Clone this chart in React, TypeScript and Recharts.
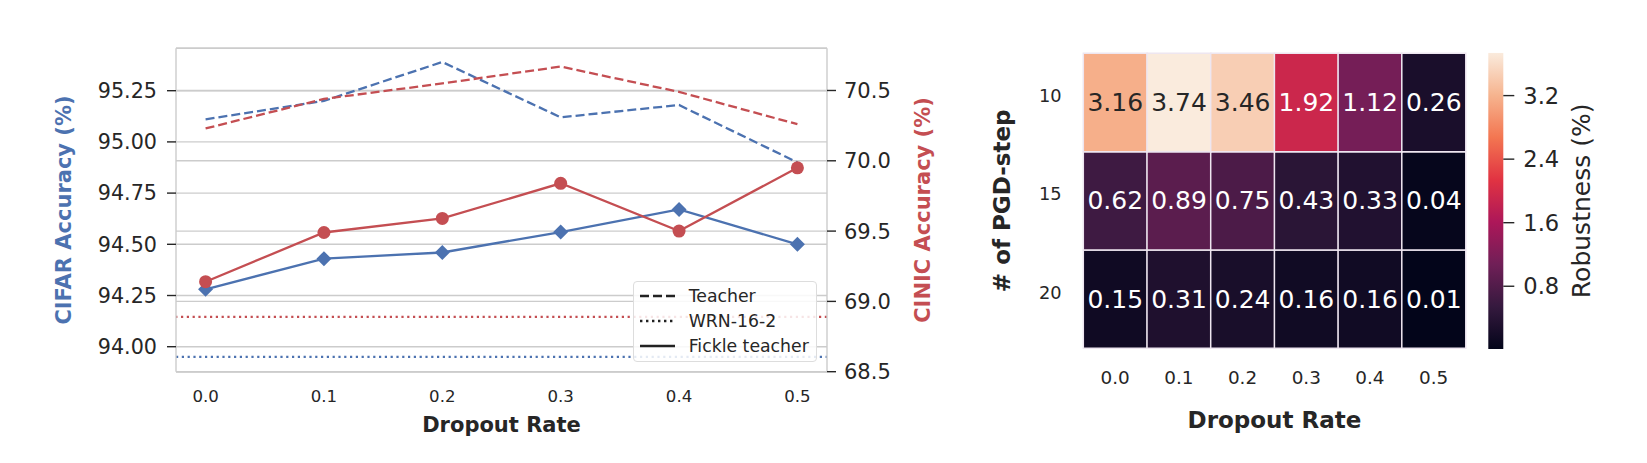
import React from "react";
import {
  LineChart,
  Line,
  XAxis,
  YAxis,
  CartesianGrid,
  ReferenceLine,
  Label,
  BarChart,
  Bar,
  Cell,
  LabelList,
} from "recharts";

// ---- left panel data ----
const dropoutRates = [0, 0.1, 0.2, 0.3, 0.4, 0.5];
const cifarTeacher = [95.11, 95.2, 95.39, 95.12, 95.18, 94.9];
const cifarFickle = [94.28, 94.43, 94.46, 94.56, 94.67, 94.5];
const cinicTeacher = [70.23, 70.44, 70.55, 70.67, 70.49, 70.26];
const cinicFickle = [69.14, 69.49, 69.59, 69.84, 69.5, 69.95];
const cifarWrn = 93.95;
const cinicWrn = 68.89;
const cifarTicks = [94.0, 94.25, 94.5, 94.75, 95.0, 95.25];
const cinicTicks = [68.5, 69.0, 69.5, 70.0, 70.5];

// ---- right panel data ----
const heatRates = ["0.0", "0.1", "0.2", "0.3", "0.4", "0.5"];
const pgdSteps = ["10", "15", "20"];
const robustness10 = [3.16, 3.74, 3.46, 1.92, 1.12, 0.26];
const robustness15 = [0.62, 0.89, 0.75, 0.43, 0.33, 0.04];
const robustness20 = [0.15, 0.31, 0.24, 0.16, 0.16, 0.01];
const colorbarTicks = [0.8, 1.6, 2.4, 3.2];

const FONT = '"DejaVu Sans", sans-serif';
const BLUE = "#4c72b0";
const RED = "#c44e52";
const GRID = "#cccccc";
const INK = "#262626";

const lineData = dropoutRates.map((rate, i) => ({
  rate,
  cifarTeacher: cifarTeacher[i],
  cifarFickle: cifarFickle[i],
  cinicTeacher: cinicTeacher[i],
  cinicFickle: cinicFickle[i],
}));

const allRobust = [...robustness10, ...robustness15, ...robustness20];
const vmin = Math.min(...allRobust);
const vmax = Math.max(...allRobust);

const heatData = heatRates.map((rate, i) => ({
  rate,
  span20: 1,
  span15: 1,
  span10: 1,
  v20: robustness20[i],
  v15: robustness15[i],
  v10: robustness10[i],
}));

// seaborn "rocket" colormap, sampled
const ROCKET: [number, string][] = [
  [0, "#03051a"],
  [1 / 7, "#35193e"],
  [2 / 7, "#701f57"],
  [3 / 7, "#ad1759"],
  [4 / 7, "#e13342"],
  [5 / 7, "#f37651"],
  [6 / 7, "#f6b48f"],
  [1, "#faebdd"],
];

const hex = (h: string) => [1, 3, 5].map((k) => parseInt(h.slice(k, k + 2), 16));

function rocketRgb(t: number) {
  const v = Math.max(0, Math.min(1, t));
  for (let i = 1; i < ROCKET.length; i++) {
    if (v <= ROCKET[i][0]) {
      const [p0, c0] = ROCKET[i - 1];
      const [p1, c1] = ROCKET[i];
      const f = (v - p0) / (p1 - p0);
      const a = hex(c0);
      const b = hex(c1);
      return a.map((x, k) => Math.round(x + (b[k] - x) * f));
    }
  }
  return hex(ROCKET[ROCKET.length - 1][1]);
}

const norm = (v: number) => (v - vmin) / (vmax - vmin);
const cellColor = (v: number) => {
  const [r, g, b] = rocketRgb(norm(v));
  return `rgb(${r},${g},${b})`;
};
const luminance = (v: number) => {
  const lin = rocketRgb(norm(v)).map((c) => {
    const s = c / 255;
    return s <= 0.03928 ? s / 12.92 : Math.pow((s + 0.055) / 1.055, 2.4);
  });
  return 0.2126 * lin[0] + 0.7152 * lin[1] + 0.0722 * lin[2];
};

const renderDiamond = (props: any) => {
  const { cx, cy, index } = props;
  const s = 7.5;
  return (
    <polygon
      key={`dia-${index}`}
      points={`${cx},${cy - s} ${cx + s},${cy} ${cx},${cy + s} ${cx - s},${cy}`}
      fill={BLUE}
    />
  );
};

const renderCircle = (props: any) => {
  const { cx, cy, index } = props;
  return <circle key={`cir-${index}`} cx={cx} cy={cy} r={6.5} fill={RED} />;
};

const renderAnnot = (props: any) => {
  const { x, y, width, height, value } = props;
  return (
    <text
      x={x + width / 2}
      y={y + height / 2}
      textAnchor="middle"
      dominantBaseline="central"
      fontFamily={FONT}
      fontSize={25}
      fill={luminance(value) > 0.408 ? INK : "#ffffff"}
    >
      {value.toFixed(2)}
    </text>
  );
};

const RowTick = (props: any) => {
  const { x, y, payload } = props;
  const label = pgdSteps[pgdSteps.length - 1 - Math.floor(payload.value)];
  return (
    <text x={x} y={y - 7} textAnchor="end" dominantBaseline="central" fontFamily={FONT} fontSize={17.8} fill={INK}>
      {label}
    </text>
  );
};

const legendItems = [
  { label: "Teacher", dash: "9 4" },
  { label: "WRN-16-2", dash: "2.4 3.6" },
  { label: "Fickle teacher", dash: undefined },
];

const LegendBox = () => (
  <div
    style={{
      position: "absolute",
      left: 632.7,
      top: 280.7,
      width: 184,
      height: 81.6,
      boxSizing: "border-box",
      border: "1px solid #dddddd",
      borderRadius: 4,
      background: "rgba(255,255,255,0.85)",
      fontFamily: FONT,
      fontSize: 17.3,
      color: INK,
    }}
  >
    {legendItems.map((it, i) => (
      <div
        key={it.label}
        style={{ position: "absolute", left: 6, top: 2 + i * 25, height: 25, display: "flex", alignItems: "center" }}
      >
        <svg width={35} height={6} style={{ marginRight: 14 }}>
          <line x1={0} y1={3} x2={35} y2={3} stroke="#222222" strokeWidth={2.5} strokeDasharray={it.dash} />
        </svg>
        <span style={{ whiteSpace: "nowrap" }}>{it.label}</span>
      </div>
    ))}
  </div>
);

const axisText = { fill: INK, fontFamily: FONT };

export default function App() {
  return (
    <div style={{ position: "absolute", left: 0, top: 0, width: 1647, height: 463, background: "#ffffff" }}>
      <div style={{ position: "absolute", left: 0, top: 0 }}>
        <LineChart width={950} height={463} data={lineData} margin={{ top: 48.3, right: 0, bottom: 31.3, left: 0 }}>
          <CartesianGrid yAxisId="cifar" vertical={false} stroke={GRID} strokeWidth={1.4} />
          <CartesianGrid yAxisId="cinic" vertical={false} stroke={GRID} strokeWidth={1.4} />
          <XAxis
            dataKey="rate"
            type="number"
            domain={[-0.025, 0.525]}
            ticks={dropoutRates}
            allowDataOverflow
            tickFormatter={(v: number) => v.toFixed(1)}
            height={60}
            axisLine={{ stroke: GRID, strokeWidth: 1.4 }}
            tickLine={false}
            tickSize={10}
            tickMargin={9}
            tick={{ ...axisText, fontSize: 16.6 }}
          >
            <Label
              value="Dropout Rate"
              position="insideBottom"
              offset={0}
              style={{ ...axisText, fontSize: 21, fontWeight: "bold" }}
            />
          </XAxis>
          <XAxis
            xAxisId="top"
            orientation="top"
            type="number"
            domain={[-0.025, 0.525]}
            height={0}
            tick={false}
            tickLine={false}
            axisLine={{ stroke: GRID, strokeWidth: 1.4 }}
          />
          <YAxis
            yAxisId="cifar"
            orientation="left"
            width={176}
            domain={[93.878, 95.457]}
            ticks={cifarTicks}
            allowDataOverflow
            tickFormatter={(v: number) => v.toFixed(2)}
            axisLine={{ stroke: GRID, strokeWidth: 1.4 }}
            tickLine={{ stroke: INK, strokeWidth: 1.4 }}
            tickSize={9}
            tickMargin={10}
            tick={{ ...axisText, fontSize: 20.7 }}
          >
            <Label
              value="CIFAR Accuracy (%)"
              angle={-90}
              position="insideLeft"
              offset={64}
              style={{ textAnchor: "middle", fill: BLUE, fontFamily: FONT, fontSize: 21, fontWeight: "bold" }}
            />
          </YAxis>
          <YAxis
            yAxisId="cinic"
            orientation="right"
            width={123}
            domain={[68.5, 70.8]}
            ticks={cinicTicks}
            allowDataOverflow
            tickFormatter={(v: number) => v.toFixed(1)}
            axisLine={{ stroke: GRID, strokeWidth: 1.4 }}
            tickLine={{ stroke: INK, strokeWidth: 1.4 }}
            tickSize={9}
            tickMargin={8}
            tick={{ ...axisText, fontSize: 21 }}
          >
            <Label
              value="CINIC Accuracy (%)"
              angle={-90}
              position="insideLeft"
              offset={96}
              style={{ textAnchor: "middle", fill: RED, fontFamily: FONT, fontSize: 21, fontWeight: "bold" }}
            />
          </YAxis>
          <ReferenceLine yAxisId="cifar" y={cifarWrn} stroke={BLUE} strokeWidth={2.2} strokeDasharray="2.2 3.6" />
          <Line
            yAxisId="cifar"
            dataKey="cifarTeacher"
            stroke={BLUE}
            strokeWidth={2.3}
            strokeDasharray="9 4"
            dot={false}
            isAnimationActive={false}
          />
          <Line
            yAxisId="cifar"
            dataKey="cifarFickle"
            stroke={BLUE}
            strokeWidth={2.3}
            dot={renderDiamond}
            activeDot={false}
            isAnimationActive={false}
          />
          <ReferenceLine yAxisId="cinic" y={cinicWrn} stroke={RED} strokeWidth={2.2} strokeDasharray="2.2 3.6" />
          <Line
            yAxisId="cinic"
            dataKey="cinicTeacher"
            stroke={RED}
            strokeWidth={2.3}
            strokeDasharray="9 4"
            dot={false}
            isAnimationActive={false}
          />
          <Line
            yAxisId="cinic"
            dataKey="cinicFickle"
            stroke={RED}
            strokeWidth={2.3}
            dot={renderCircle}
            activeDot={false}
            isAnimationActive={false}
          />
        </LineChart>
        <LegendBox />
      </div>

      <div style={{ position: "absolute", left: 960, top: 0 }}>
        <BarChart
          width={510}
          height={463}
          data={heatData}
          margin={{ top: 53.3, right: 4.5, bottom: 34.7, left: 0 }}
          barCategoryGap={0}
          barGap={0}
        >
          <XAxis
            dataKey="rate"
            height={80}
            axisLine={false}
            tickLine={false}
            tickSize={0}
            tickMargin={22.7}
            tick={{ ...axisText, fontSize: 18.4 }}
          >
            <Label
              value="Dropout Rate"
              position="insideBottom"
              offset={0}
              style={{ ...axisText, fontSize: 23, fontWeight: "bold" }}
            />
          </XAxis>
          <YAxis
            type="number"
            domain={[0, pgdSteps.length]}
            ticks={pgdSteps.map((_, i) => i + 0.5)}
            width={123.3}
            axisLine={false}
            tickLine={false}
            tickSize={0}
            tickMargin={21.6}
            tick={<RowTick />}
          >
            <Label
              value="# of PGD-step"
              angle={-90}
              position="insideLeft"
              offset={42}
              style={{ textAnchor: "middle", ...axisText, fontSize: 23, fontWeight: "bold" }}
            />
          </YAxis>
          <Bar dataKey="span20" stackId="grid" stroke="#eee6f0" strokeWidth={1.5} isAnimationActive={false}>
            {heatData.map((d, i) => (
              <Cell key={`c20-${i}`} fill={cellColor(d.v20)} />
            ))}
            <LabelList dataKey="v20" content={renderAnnot} />
          </Bar>
          <Bar dataKey="span15" stackId="grid" stroke="#eee6f0" strokeWidth={1.5} isAnimationActive={false}>
            {heatData.map((d, i) => (
              <Cell key={`c15-${i}`} fill={cellColor(d.v15)} />
            ))}
            <LabelList dataKey="v15" content={renderAnnot} />
          </Bar>
          <Bar dataKey="span10" stackId="grid" stroke="#eee6f0" strokeWidth={1.5} isAnimationActive={false}>
            {heatData.map((d, i) => (
              <Cell key={`c10-${i}`} fill={cellColor(d.v10)} />
            ))}
            <LabelList dataKey="v10" content={renderAnnot} />
          </Bar>
        </BarChart>
      </div>

      <div style={{ position: "absolute", left: 1470, top: 0 }}>
        <BarChart
          width={177}
          height={463}
          data={[{ name: "colorbar", range: [vmin, vmax] }]}
          margin={{ top: 52.7, right: 23.7, bottom: 114, left: 18.3 }}
          barCategoryGap={0}
        >
          <defs>
            <linearGradient id="rocketGrad" x1="0" y1="1" x2="0" y2="0">
              {ROCKET.map(([p, c]) => (
                <stop key={p} offset={p} stopColor={c} />
              ))}
            </linearGradient>
          </defs>
          <XAxis dataKey="name" hide />
          <YAxis
            orientation="right"
            type="number"
            domain={[vmin, vmax]}
            allowDataOverflow
            ticks={colorbarTicks}
            tickFormatter={(v: number) => v.toFixed(1)}
            width={120}
            axisLine={false}
            tickLine={{ stroke: INK, strokeWidth: 1.4 }}
            tickSize={11}
            tickMargin={9}
            tick={{ ...axisText, fontSize: 22.6 }}
          >
            <Label
              value="Robustness (%)"
              angle={-90}
              position="insideLeft"
              offset={77.7}
              style={{ textAnchor: "middle", ...axisText, fontSize: 25 }}
            />
          </YAxis>
          <Bar dataKey="range" fill="url(#rocketGrad)" isAnimationActive={false} />
        </BarChart>
      </div>
    </div>
  );
}
